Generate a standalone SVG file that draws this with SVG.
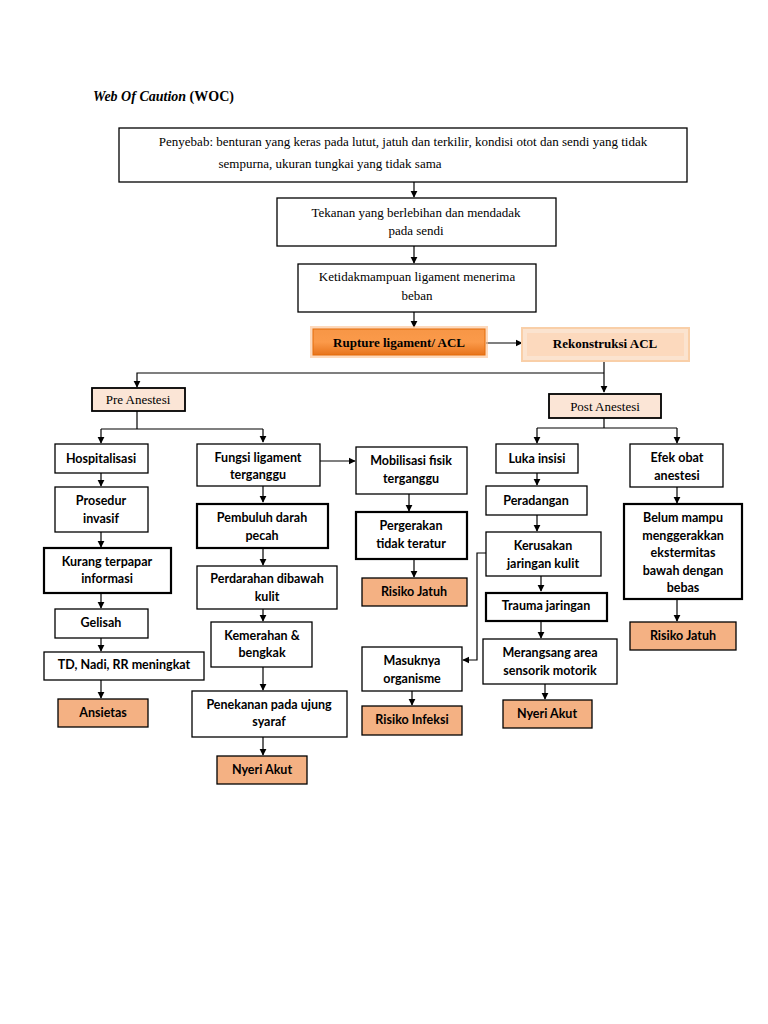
<svg xmlns="http://www.w3.org/2000/svg" width="768" height="1024" viewBox="0 0 768 1024">
<style>
.b{fill:#fff;stroke:#000;stroke-width:1.3}
.bt{fill:#fff;stroke:#000;stroke-width:2.2}
.o{fill:#f4b183;stroke:#000;stroke-width:1.3}
.pa{fill:#fbe5d6;stroke:#000;stroke-width:1.8}
.s{font-family:"Times New Roman","Liberation Serif",serif;font-size:13px;text-anchor:middle;fill:#000}
.t{font-family:Lato,"Liberation Sans",sans-serif;font-size:12.5px;font-weight:700;text-anchor:middle;fill:#000}
.c{fill:none;stroke:#000;stroke-width:1.2}
</style>
<defs>
<marker id="a" viewBox="0 0 10 10" refX="9" refY="5" markerWidth="6" markerHeight="6" orient="auto"><path d="M0,0L10,5L0,10z" fill="#000"/></marker>
<linearGradient id="og" x1="0" y1="0" x2="0" y2="1"><stop offset="0" stop-color="#f79646"/><stop offset="0.5" stop-color="#fb9a4a"/><stop offset="1" stop-color="#e8741c"/></linearGradient>
</defs>
<rect width="768" height="1024" fill="#fff"/>
<text x="93" y="101" font-family="Liberation Serif,serif" font-size="14" font-weight="700"><tspan font-style="italic">Web Of Caution</tspan> (WOC)</text>

<g id="connectors" class="c">
<path d="M414,182V197" marker-end="url(#a)"/>
<path d="M414,246V263" marker-end="url(#a)"/>
<path d="M414,312V327" marker-end="url(#a)"/>
<path d="M486,343H522" marker-end="url(#a)"/>
<path d="M604,359V392" marker-end="url(#a)"/>
<path d="M604,373H137V387" marker-end="url(#a)"/>
<path d="M137,411V429"/>
<path d="M101,429H263"/>
<path d="M101,429V443" marker-end="url(#a)"/>
<path d="M263,429V442" marker-end="url(#a)"/>
<path d="M101,473V486" marker-end="url(#a)"/>
<path d="M101,532V547" marker-end="url(#a)"/>
<path d="M101,593V608" marker-end="url(#a)"/>
<path d="M101,638V651" marker-end="url(#a)"/>
<path d="M101,680V698" marker-end="url(#a)"/>
<path d="M320,461H355" marker-end="url(#a)"/>
<path d="M263,486V502" marker-end="url(#a)"/>
<path d="M263,548V565" marker-end="url(#a)"/>
<path d="M263,609V621" marker-end="url(#a)"/>
<path d="M263,667V690" marker-end="url(#a)"/>
<path d="M263,737V755" marker-end="url(#a)"/>
<path d="M409,494V511" marker-end="url(#a)"/>
<path d="M414,559V577" marker-end="url(#a)"/>
<path d="M604,418V428"/>
<path d="M537,428H677"/>
<path d="M537,428V443" marker-end="url(#a)"/>
<path d="M677,428V443" marker-end="url(#a)"/>
<path d="M537,473V485" marker-end="url(#a)"/>
<path d="M537,515V531" marker-end="url(#a)"/>
<path d="M541,576V591" marker-end="url(#a)"/>
<path d="M541,621V638" marker-end="url(#a)"/>
<path d="M545,684V699" marker-end="url(#a)"/>
<path d="M486,553H477V660H463" marker-end="url(#a)"/>
<path d="M412,691V705" marker-end="url(#a)"/>
<path d="M677,487V503" marker-end="url(#a)"/>
<path d="M677,599V621" marker-end="url(#a)"/>
</g>

<g id="n1"><rect class="b" x="119" y="128" width="568" height="54"/><text class="s" x="403" y="146">Penyebab: benturan yang keras pada lutut, jatuh dan terkilir, kondisi otot dan sendi yang tidak</text><text class="s" x="330" y="168">sempurna, ukuran tungkai yang tidak sama</text></g>
<g id="n2"><rect class="b" x="277" y="198" width="279" height="48"/><text class="s" x="416" y="217">Tekanan yang berlebihan dan mendadak</text><text class="s" x="416" y="235">pada sendi</text></g>
<g id="n3"><rect class="b" x="298" y="264" width="238" height="48"/><text class="s" x="417" y="281">Ketidakmampuan ligament menerima</text><text class="s" x="417" y="300">beban</text></g>
<g id="n4"><rect x="310" y="326" width="178" height="32" fill="#fbc08f" opacity="0.6"/><rect x="313" y="329" width="172" height="26" fill="url(#og)" stroke="#e46c0a" stroke-width="1"/><text class="s" x="399" y="347" font-weight="700">Rupture ligament/ ACL</text></g>
<g id="n5"><rect x="522" y="328" width="167" height="33" fill="#fbe3cf" stroke="#f9cfa8" stroke-width="2"/><rect x="527" y="333" width="157" height="23" fill="#fcd9bd"/><text class="s" x="605" y="348" font-weight="700">Rekonstruksi ACL</text></g>
<g id="n6"><rect class="pa" x="92" y="388" width="93" height="23"/><text class="s" x="138" y="404">Pre Anestesi</text></g>
<g id="n7"><rect class="pa" x="549" y="394" width="112" height="24"/><text class="s" x="605" y="411">Post Anestesi</text></g>

<g id="n8"><rect class="b" x="55" y="444" width="93" height="29"/><text class="t" x="101" y="463">Hospitalisasi</text></g>
<g id="n9"><rect class="b" x="55" y="487" width="93" height="45"/><text class="t" x="101" y="505">Prosedur</text><text class="t" x="101" y="523">invasif</text></g>
<g id="n10"><rect class="bt" x="44" y="548" width="127" height="45"/><text class="t" x="107" y="566">Kurang terpapar</text><text class="t" x="107" y="583">informasi</text></g>
<g id="n11"><rect class="b" x="55" y="609" width="93" height="29"/><text class="t" x="101" y="627">Gelisah</text></g>
<g id="n12"><rect class="b" x="44" y="652" width="160" height="28"/><text class="t" x="124" y="669">TD, Nadi, RR meningkat</text></g>
<g id="n13"><rect class="o" x="58" y="699" width="90" height="28"/><text class="t" x="103" y="717">Ansietas</text></g>

<g id="n14"><rect class="b" x="197" y="444" width="123" height="42"/><text class="t" x="258" y="462">Fungsi ligament</text><text class="t" x="258" y="479">terganggu</text></g>
<g id="n15"><rect class="bt" x="197" y="504" width="131" height="44"/><text class="t" x="262" y="522">Pembuluh darah</text><text class="t" x="262" y="540">pecah</text></g>
<g id="n16"><rect class="b" x="197" y="566" width="140" height="43"/><text class="t" x="267" y="583">Perdarahan dibawah</text><text class="t" x="267" y="601">kulit</text></g>
<g id="n17"><rect class="b" x="211" y="622" width="101" height="45"/><text class="t" x="262" y="640">Kemerahan &amp;</text><text class="t" x="262" y="657">bengkak</text></g>
<g id="n18"><rect class="b" x="192" y="691" width="155" height="46"/><text class="t" x="269" y="709">Penekanan pada ujung</text><text class="t" x="269" y="726">syaraf</text></g>
<g id="n19"><rect class="o" x="217" y="756" width="90" height="28"/><text class="t" x="262" y="774">Nyeri Akut</text></g>

<g id="n20"><rect class="b" x="356" y="447" width="111" height="47"/><text class="t" x="411" y="465">Mobilisasi fisik</text><text class="t" x="411" y="483">terganggu</text></g>
<g id="n21"><rect class="bt" x="356" y="512" width="111" height="47"/><text class="t" x="411" y="530">Pergerakan</text><text class="t" x="411" y="548">tidak teratur</text></g>
<g id="n22"><rect class="o" x="362" y="578" width="105" height="28"/><text class="t" x="414" y="596">Risiko Jatuh</text></g>
<g id="n23"><rect class="b" x="362" y="647" width="100" height="44"/><text class="t" x="412" y="665">Masuknya</text><text class="t" x="412" y="683">organisme</text></g>
<g id="n24"><rect class="o" x="362" y="706" width="100" height="29"/><text class="t" x="412" y="724">Risiko Infeksi</text></g>

<g id="n25"><rect class="b" x="496" y="444" width="82" height="29"/><text class="t" x="537" y="463">Luka insisi</text></g>
<g id="n26"><rect class="b" x="486" y="486" width="101" height="29"/><text class="t" x="536" y="505">Peradangan</text></g>
<g id="n27"><rect class="b" x="486" y="532" width="115" height="44"/><text class="t" x="543" y="550">Kerusakan</text><text class="t" x="543" y="568">jaringan kulit</text></g>
<g id="n28"><rect class="bt" x="486" y="593" width="121" height="28"/><text class="t" x="546" y="610">Trauma jaringan</text></g>
<g id="n29"><rect class="b" x="483" y="639" width="134" height="45"/><text class="t" x="550" y="657">Merangsang area</text><text class="t" x="550" y="675">sensorik motorik</text></g>
<g id="n30"><rect class="o" x="503" y="700" width="89" height="28"/><text class="t" x="547" y="718">Nyeri Akut</text></g>

<g id="n31"><rect class="b" x="630" y="444" width="93" height="43"/><text class="t" x="677" y="462">Efek obat</text><text class="t" x="677" y="480">anestesi</text></g>
<g id="n32"><rect class="bt" x="624" y="504" width="118" height="95"/><text class="t" x="683" y="522">Belum mampu</text><text class="t" x="683" y="540">menggerakkan</text><text class="t" x="683" y="557">ekstermitas</text><text class="t" x="683" y="575">bawah dengan</text><text class="t" x="683" y="592">bebas</text></g>
<g id="n33"><rect class="o" x="630" y="622" width="106" height="28"/><text class="t" x="683" y="640">Risiko Jatuh</text></g>
</svg>
